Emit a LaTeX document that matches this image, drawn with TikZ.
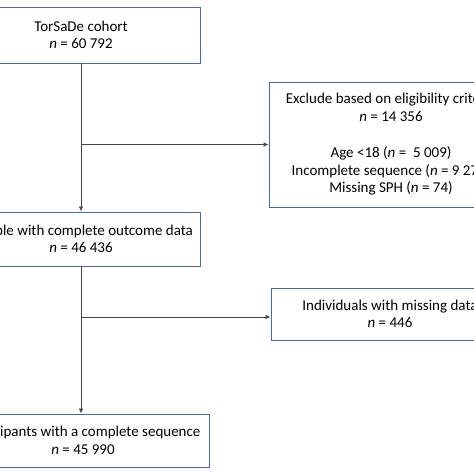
\documentclass[tikz,border=0pt]{standalone}
\usepackage{fontspec}
\setmainfont{Carlito}
\usetikzlibrary{arrows.meta}
\definecolor{boxblue}{RGB}{72,104,172}
\definecolor{linegray}{RGB}{70,70,70}
\tikzset{
  flowbox/.style={draw=boxblue,line width=0.9pt,fill=white,align=center,inner sep=0pt,
    font=\fontsize{15}{17.5}\selectfont,text=black},
  flowline/.style={draw=linegray,line width=0.8pt},
  flowarrow/.style={flowline,-{Latex[length=5pt,width=4.5pt]}}
}
\begin{document}
\begin{tikzpicture}[x=1pt,y=-1pt]
\path[use as bounding box] (0,0) rectangle (474,474);
\clip (0,0) rectangle (474,474);
\fill[white] (0,0) rectangle (474,474);
% main column
\node[flowbox,minimum width=238pt,minimum height=56pt] (cohort) at (81,35) {TorSaDe cohort\\\textit{n} = 60 792};
\node[flowbox,minimum width=238pt,minimum height=54pt] (sample) at (81,239) {Sample with complete outcome data\\\textit{n} = 46 436};
\node[flowbox,minimum width=252pt,minimum height=53pt] (final) at (83,440.5) {Participants with a complete sequence\\\textit{n} = 45 990};
% exclusions
\node[flowbox,minimum width=244pt,minimum height=125pt] (exclude) at (391,144.5) {Exclude based on eligibility criteria\\\textit{n} = 14 356\\[19pt]Age <18 (\textit{n} =\ \ 5 009)\\Incomplete sequence (\textit{n} = 9 273)\\Missing SPH (\textit{n} = 74)};
\node[flowbox,minimum width=238pt,minimum height=52pt] (missing) at (390,314) {Individuals with missing data\\\textit{n} = 446};
% connectors
\coordinate (split1) at (81,144.5);
\coordinate (split2) at (81,317);
\draw[flowarrow] (cohort.south) -- (sample.north);
\draw[flowarrow] (split1) -- (exclude.west);
\draw[flowarrow] (sample.south) -- (sample.south |- final.north);
\draw[flowarrow] (split2) -- (split2 -| missing.west);
\end{tikzpicture}
\end{document}
